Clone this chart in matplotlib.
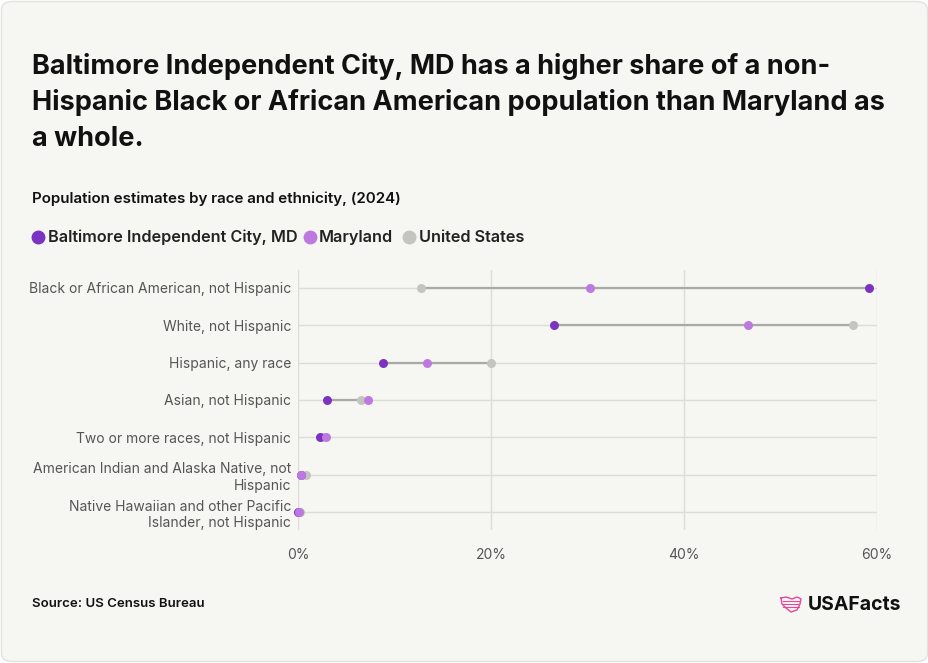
import matplotlib.pyplot as plt
import numpy as np
from matplotlib.patches import FancyBboxPatch
from matplotlib.lines import Line2D
from matplotlib.ticker import FuncFormatter

plt.rcParams['font.family'] = ['Inter', 'DejaVu Sans']

categories = [
    "Black or African American, not Hispanic",
    "White, not Hispanic",
    "Hispanic, any race",
    "Asian, not Hispanic",
    "Two or more races, not Hispanic",
    "American Indian and Alaska Native, not\nHispanic",
    "Native Hawaiian and other Pacific\nIslander, not Hispanic",
]
baltimore = [59.2, 26.5, 8.8, 3.0, 2.3, 0.3, 0.0]
maryland = [30.3, 46.6, 13.4, 7.3, 2.9, 0.3, 0.1]
united_states = [12.7, 57.5, 20.0, 6.5, 2.6, 0.8, 0.2]
series_names = ["Baltimore Independent City, MD", "Maryland", "United States"]
colors = ["#7B33C2", "#BD79E0", "#C5C5C0"]

W, H = 929, 663
fig = plt.figure(figsize=(W / 100, H / 100), dpi=100)
fig.patch.set_facecolor("white")

card = FancyBboxPatch((1.5 / W, 1.5 / H), (W - 3) / W, (H - 3) / H,
                      boxstyle="round,pad=0,rounding_size=0.012",
                      transform=fig.transFigure, facecolor="#F6F6F2",
                      edgecolor="#E2E2DE", linewidth=1, zorder=-10)
fig.patches.append(card)

def fx(px):
    return px / W

def fy(py):
    return 1 - py / H

title_lines = ["Baltimore Independent City, MD has a higher share of a non-",
               "Hispanic Black or African American population than Maryland as",
               "a whole."]
for k, line in enumerate(title_lines):
    fig.text(fx(32), fy(67 + 36 * k), line, fontsize=19.5, fontweight="bold",
             color="#111111", va="center")

fig.text(fx(32), fy(199), "Population estimates by race and ethnicity, (2024)",
         fontsize=10.9, fontweight="semibold", color="#111111", va="center")

# legend
dot_x = [38, 310, 409]
txt_x = [48, 319, 419]
for i, name in enumerate(series_names):
    fig.add_artist(Line2D([fx(dot_x[i])], [fy(237)], marker="o", markersize=9,
                          color=colors[i], transform=fig.transFigure))
    fig.text(fx(txt_x[i]), fy(237), name, fontsize=11.7, fontweight="semibold",
             color="#222222", va="center")

ax = fig.add_axes([fx(298), fy(530), (877 - 298) / W, (530 - 270) / H])
ax.set_facecolor("none")
y = np.arange(len(categories))

for i in range(len(categories)):
    vals = [baltimore[i], maryland[i], united_states[i]]
    ax.plot([min(vals), max(vals)], [i, i], color="#A9A9A5", lw=1.6, zorder=2,
            solid_capstyle="butt")

ax.scatter(united_states, y, s=42, color=colors[2], zorder=3, clip_on=False, linewidths=0)
ax.scatter(baltimore, y, s=42, color=colors[0], zorder=4, clip_on=False, linewidths=0)
ax.scatter(maryland, y, s=42, color=colors[1], zorder=5, clip_on=False, linewidths=0)

ax.set_xlim(0, 60)
ax.set_ylim(len(categories) - 0.52, -0.48)
ax.set_xticks([0, 20, 40, 60])
ax.xaxis.set_major_formatter(FuncFormatter(lambda v, p: f"{v:.0f}%"))
ax.set_yticks(y)
ax.set_yticklabels(categories, fontsize=10, color="#555555", linespacing=1.25)
ax.tick_params(axis="x", length=0, labelsize=10, labelcolor="#555555", pad=13)
ax.tick_params(axis="y", length=0, pad=5)
ax.grid(True, color="#DDDDD8", lw=1, zorder=0)
ax.set_axisbelow(True)
for s in ax.spines.values():
    s.set_visible(False)

fig.text(fx(32), fy(604), "Source: US Census Bureau", fontsize=9.5,
         fontweight="semibold", color="#111111", va="center")

# logo
fig.text(fx(808), fy(605), "USAFacts", fontsize=14, fontweight="bold",
         color="#111111", va="center", ha="left")
logo_x = np.array([781, 786, 792, 797, 801, 800, 797, 791, 786, 782, 781])
logo_y = np.array([598, 597, 599, 597, 599, 604, 610, 612, 608, 604, 598])
fig.add_artist(Line2D(fx(logo_x), fy(logo_y), color="#E8479A", lw=1,
                      transform=fig.transFigure))
for dy in [601, 604, 607]:
    fig.add_artist(Line2D([fx(783), fx(799)], [fy(dy), fy(dy)], color="#E8479A",
                          lw=0.8, transform=fig.transFigure))

fig.savefig("out.png", dpi=100, facecolor="white")
